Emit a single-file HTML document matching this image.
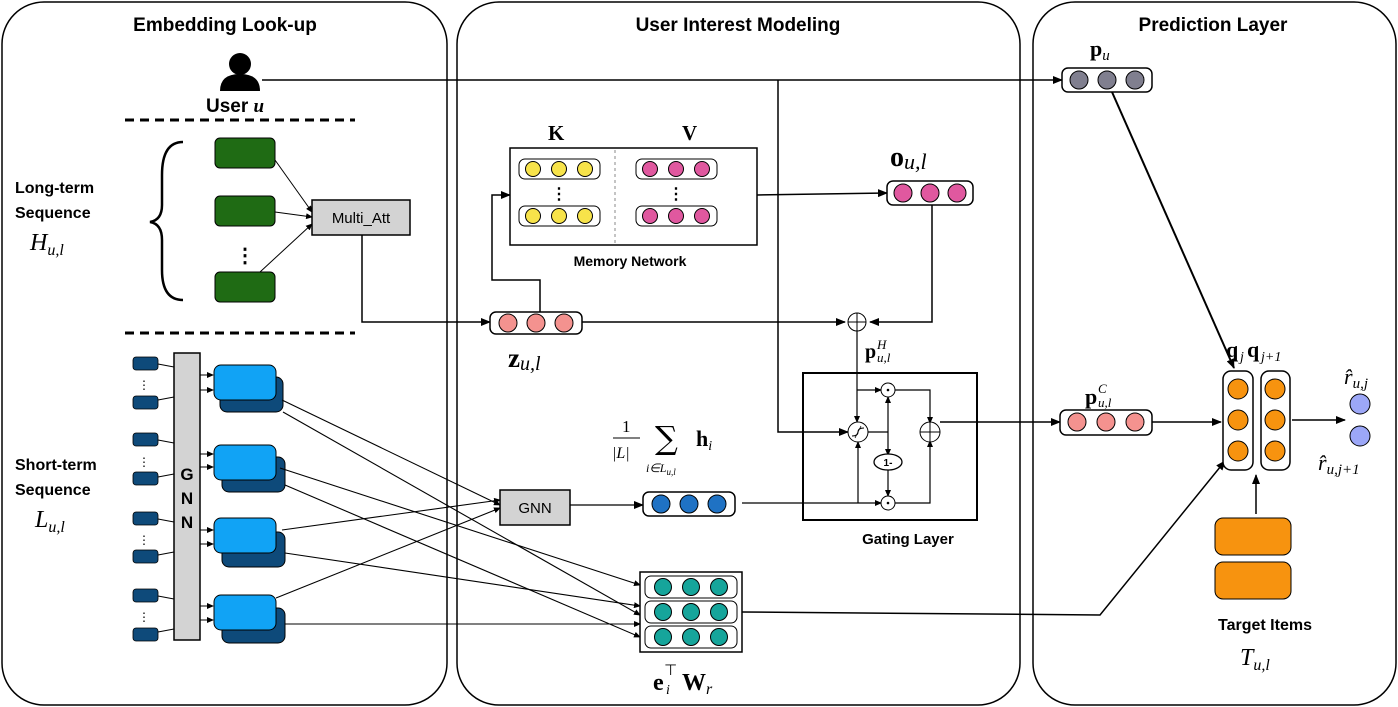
<!DOCTYPE html>
<html><head><style>
body{margin:0;background:#fff}
svg{display:block}
.t{font-family:"Liberation Sans",sans-serif;font-weight:bold}
.m{font-family:"Liberation Serif",serif;font-style:italic}
.b{font-family:"Liberation Serif",serif;font-weight:bold}
</style></head><body>
<svg width="1398" height="707" viewBox="0 0 1398 707" xmlns="http://www.w3.org/2000/svg">
<defs>
<marker id="a" markerWidth="10" markerHeight="8" refX="9" refY="4" orient="auto" markerUnits="userSpaceOnUse"><path d="M0,0 L10,4 L0,8 z" fill="#000"/></marker>
<marker id="s" markerWidth="7" markerHeight="6" refX="6" refY="3" orient="auto" markerUnits="userSpaceOnUse"><path d="M0,0 L7,3 L0,6 z" fill="#000"/></marker>
</defs>
<g fill="none" stroke="#000" stroke-width="1.5">
<rect x="2" y="2" width="445" height="703" rx="42"/>
<rect x="457" y="2" width="563" height="703" rx="42"/>
<rect x="1033" y="2" width="363" height="703" rx="42"/>
</g>
<text class="t" x="225" y="31" font-size="19" text-anchor="middle">Embedding Look-up</text>
<text class="t" x="738" y="31" font-size="19" text-anchor="middle">User Interest Modeling</text>
<text class="t" x="1213" y="31" font-size="19" text-anchor="middle">Prediction Layer</text>

<!-- user icon -->
<circle cx="240" cy="64" r="11" fill="#000"/>
<path d="M220,91 Q220,74 240,74 Q260,74 260,91 z" fill="#000"/>
<text class="t" x="206" y="112" font-size="19">User <tspan class="m">u</tspan></text>
<line x1="125" y1="120" x2="355" y2="120" stroke="#000" stroke-width="3" stroke-dasharray="9,6"/>
<line x1="125" y1="333" x2="355" y2="333" stroke="#000" stroke-width="3" stroke-dasharray="9,6"/>

<!-- long-term -->
<text class="t" x="15" y="193" font-size="16">Long-term</text>
<text class="t" x="15" y="218" font-size="16">Sequence</text>
<text class="m" x="30" y="250" font-size="24">H<tspan font-size="16" dy="5">u,l</tspan></text>
<path d="M183,142 Q162,142 162,175 L162,205 Q162,220 150,222 Q162,224 162,240 L162,270 Q162,300 183,300" fill="none" stroke="#000" stroke-width="2.5"/>
<g fill="#1f6b14" stroke="#000" stroke-width="1">
<rect x="215" y="138" width="60" height="30" rx="5"/>
<rect x="215" y="196" width="60" height="30" rx="5"/>
<rect x="215" y="272" width="60" height="30" rx="5"/>
</g>
<text class="t" x="245" y="262" font-size="20" text-anchor="middle">⋮</text>
<g stroke="#000" stroke-width="1">
<line x1="275" y1="160" x2="312" y2="212" marker-end="url(#s)"/>
<line x1="275" y1="212" x2="312" y2="217" marker-end="url(#s)"/>
<line x1="260" y1="272" x2="312" y2="224" marker-end="url(#s)"/>
</g>
<rect x="312" y="200" width="98" height="35" fill="#d3d3d3" stroke="#000" stroke-width="1.5"/>
<text x="361" y="223" font-size="15" text-anchor="middle" font-family="Liberation Sans">Multi_Att</text>
<polyline points="362,235 362,322 490,322" fill="none" stroke="#000" stroke-width="1.5" marker-end="url(#a)"/>

<!-- z -->
<rect x="490" y="312" width="92" height="22" rx="6" fill="#fff" stroke="#000" stroke-width="1.5"/>
<g fill="#f4928f" stroke="#000"><circle cx="508" cy="323" r="9"/><circle cx="536" cy="323" r="9"/><circle cx="564" cy="323" r="9"/></g>
<text class="b" x="508" y="367" font-size="27">z<tspan class="m" font-weight="normal" font-size="20" dy="3">u,l</tspan></text>
<polyline points="540,312 540,280 492,280 492,195 510,195" fill="none" stroke="#000" stroke-width="1.5" marker-end="url(#a)"/>
<line x1="582" y1="322" x2="845" y2="322" stroke="#000" stroke-width="1.5" marker-end="url(#a)"/>

<!-- memory network -->
<rect x="510" y="148" width="247" height="97" fill="#fff" stroke="#000" stroke-width="1.5"/>
<line x1="615" y1="150" x2="615" y2="243" stroke="#888" stroke-dasharray="3,3"/>
<text class="b" x="548" y="140" font-size="21">K</text>
<text class="b" x="682" y="140" font-size="21">V</text>
<g fill="#fff" stroke="#000">
<rect x="519" y="159" width="81" height="20" rx="6"/><rect x="519" y="206" width="81" height="20" rx="6"/>
<rect x="636" y="159" width="81" height="20" rx="6"/><rect x="636" y="206" width="81" height="20" rx="6"/>
</g>
<g fill="#f7e34a" stroke="#000">
<circle cx="533" cy="169" r="7.5"/><circle cx="559" cy="169" r="7.5"/><circle cx="585" cy="169" r="7.5"/>
<circle cx="533" cy="216" r="7.5"/><circle cx="559" cy="216" r="7.5"/><circle cx="585" cy="216" r="7.5"/>
</g>
<g fill="#e0589f" stroke="#000">
<circle cx="650" cy="169" r="7.5"/><circle cx="676" cy="169" r="7.5"/><circle cx="702" cy="169" r="7.5"/>
<circle cx="650" cy="216" r="7.5"/><circle cx="676" cy="216" r="7.5"/><circle cx="702" cy="216" r="7.5"/>
</g>
<text class="t" x="559" y="199" font-size="16" text-anchor="middle">⋮</text>
<text class="t" x="676" y="199" font-size="16" text-anchor="middle">⋮</text>
<text class="t" x="630" y="266" font-size="14" text-anchor="middle">Memory Network</text>
<line x1="757" y1="195" x2="887" y2="193" stroke="#000" stroke-width="1.5" marker-end="url(#a)"/>

<!-- o -->
<text class="b" x="890" y="166" font-size="28">o<tspan class="m" font-weight="normal" font-size="22" dy="3">u,l</tspan></text>
<rect x="887" y="181" width="86" height="24" rx="6" fill="#fff" stroke="#000" stroke-width="1.5"/>
<g fill="#e0589f" stroke="#000"><circle cx="903" cy="193" r="9"/><circle cx="930" cy="193" r="9"/><circle cx="957" cy="193" r="9"/></g>
<polyline points="932,205 932,322 870,322" fill="none" stroke="#000" stroke-width="1.5" marker-end="url(#a)"/>
<circle cx="857" cy="322" r="9" fill="#fff" stroke="#000"/>
<line x1="848" y1="322" x2="866" y2="322" stroke="#000"/><line x1="857" y1="313" x2="857" y2="331" stroke="#000"/>
<text class="b" x="865" y="358" font-size="20">p</text>
<text class="m" x="877" y="349" font-size="13">H</text>
<text class="m" x="877" y="362" font-size="13">u,l</text>

<!-- user line -->
<line x1="262" y1="80" x2="1062" y2="80" stroke="#000" stroke-width="1.5" marker-end="url(#a)"/>
<polyline points="778,80 778,432 848,432" fill="none" stroke="#000" stroke-width="1.5" marker-end="url(#a)"/>

<!-- gating -->
<rect x="803" y="373" width="174" height="147" fill="none" stroke="#000" stroke-width="2"/>
<text class="t" x="908" y="544" font-size="15" text-anchor="middle">Gating Layer</text>
<g stroke="#000" stroke-width="1.2" fill="none">
<line x1="857" y1="331" x2="857" y2="422" marker-end="url(#s)"/>
<polyline points="857,390 881,390" marker-end="url(#s)"/>
<polyline points="868,432 888,432"/>
<line x1="888" y1="432" x2="888" y2="397" marker-end="url(#s)"/>
<line x1="888" y1="432" x2="888" y2="455" marker-end="url(#s)"/>
<line x1="888" y1="469" x2="888" y2="496" marker-end="url(#s)"/>
<polyline points="895,390 930,390 930,423" marker-end="url(#s)"/>
<polyline points="895,503 930,503 930,441" marker-end="url(#s)"/>
<polyline points="742,503 881,503" marker-end="url(#s)"/>
<line x1="858" y1="503" x2="858" y2="442" marker-end="url(#s)"/>
</g>
<circle cx="858" cy="432" r="10" fill="#fff" stroke="#000"/>
<path d="M852,436 Q858,436 858,432 Q858,428 864,428" fill="none" stroke="#000"/>
<line x1="855" y1="438" x2="861" y2="426" stroke="#000" stroke-width="0.8"/>
<circle cx="888" cy="390" r="7" fill="#fff" stroke="#000"/><circle cx="888" cy="390" r="1.3"/>
<circle cx="888" cy="503" r="7" fill="#fff" stroke="#000"/><circle cx="888" cy="503" r="1.3"/>
<ellipse cx="888" cy="462" rx="14" ry="8" fill="#fff" stroke="#000" stroke-width="1.3"/>
<text class="t" x="888" y="466" font-size="10" text-anchor="middle">1-</text>
<circle cx="930" cy="432" r="10" fill="#fff" stroke="#000"/>
<line x1="920" y1="432" x2="940" y2="432" stroke="#000"/><line x1="930" y1="422" x2="930" y2="442" stroke="#000"/>
<line x1="940" y1="422" x2="1060" y2="422" stroke="#000" stroke-width="1.5" marker-end="url(#a)"/>

<!-- short-term -->
<text class="t" x="15" y="470" font-size="16">Short-term</text>
<text class="t" x="15" y="495" font-size="16">Sequence</text>
<text class="m" x="35" y="527" font-size="24">L<tspan font-size="16" dy="5">u,l</tspan></text>
<g fill="#0e4a7a" stroke="#000" stroke-width="0.8">
<rect x="133" y="357" width="25" height="13" rx="3"/><rect x="133" y="396" width="25" height="13" rx="3"/>
<rect x="133" y="433" width="25" height="13" rx="3"/><rect x="133" y="472" width="25" height="13" rx="3"/>
<rect x="133" y="512" width="25" height="13" rx="3"/><rect x="133" y="550" width="25" height="13" rx="3"/>
<rect x="133" y="589" width="25" height="13" rx="3"/><rect x="133" y="628" width="25" height="13" rx="3"/>
</g>
<g font-family="Liberation Sans" font-size="12" text-anchor="middle"><text x="144" y="389">⋮</text><text x="144" y="466">⋮</text><text x="144" y="544">⋮</text><text x="144" y="621">⋮</text></g>
<g stroke="#000" stroke-width="1">
<line x1="158" y1="364" x2="174" y2="367"/><line x1="158" y1="400" x2="174" y2="397"/>
<line x1="158" y1="440" x2="174" y2="443"/><line x1="158" y1="477" x2="174" y2="474"/>
<line x1="158" y1="519" x2="174" y2="522"/><line x1="158" y1="555" x2="174" y2="552"/>
<line x1="158" y1="596" x2="174" y2="599"/><line x1="158" y1="632" x2="174" y2="629"/>
</g>
<rect x="174" y="353" width="26" height="287" fill="#d3d3d3" stroke="#000" stroke-width="1.5"/>
<text class="t" x="187" y="480" font-size="17" text-anchor="middle">G</text>
<text class="t" x="187" y="504" font-size="17" text-anchor="middle">N</text>
<text class="t" x="187" y="528" font-size="17" text-anchor="middle">N</text>
<g stroke="#000" stroke-width="1">
<line x1="200" y1="375" x2="213" y2="375" marker-end="url(#s)"/><line x1="200" y1="390" x2="213" y2="390" marker-end="url(#s)"/>
<line x1="200" y1="454" x2="213" y2="454" marker-end="url(#s)"/><line x1="200" y1="467" x2="213" y2="467" marker-end="url(#s)"/>
<line x1="200" y1="530" x2="213" y2="530" marker-end="url(#s)"/><line x1="200" y1="544" x2="213" y2="544" marker-end="url(#s)"/>
<line x1="200" y1="606" x2="213" y2="606" marker-end="url(#s)"/><line x1="200" y1="620" x2="213" y2="620" marker-end="url(#s)"/>
</g>
<g stroke="#000" stroke-width="1">
<rect x="220" y="377" width="63" height="35" rx="7" fill="#0e4a7a"/><rect x="214" y="365" width="62" height="35" rx="7" fill="#11a3f5"/>
<rect x="222" y="457" width="63" height="35" rx="7" fill="#0e4a7a"/><rect x="214" y="445" width="62" height="35" rx="7" fill="#11a3f5"/>
<rect x="222" y="532" width="63" height="35" rx="7" fill="#0e4a7a"/><rect x="214" y="518" width="62" height="35" rx="7" fill="#11a3f5"/>
<rect x="222" y="608" width="63" height="35" rx="7" fill="#0e4a7a"/><rect x="214" y="595" width="62" height="35" rx="7" fill="#11a3f5"/>
</g>
<g stroke="#000" stroke-width="1.1">
<line x1="282" y1="400" x2="500" y2="505" marker-end="url(#s)"/>
<line x1="283" y1="412" x2="640" y2="615" marker-end="url(#s)"/>
<line x1="280" y1="468" x2="640" y2="585" marker-end="url(#s)"/>
<line x1="285" y1="485" x2="640" y2="637" marker-end="url(#s)"/>
<line x1="282" y1="530" x2="500" y2="500" marker-end="url(#s)"/>
<line x1="285" y1="553" x2="640" y2="606" marker-end="url(#s)"/>
<line x1="276" y1="598" x2="500" y2="508" marker-end="url(#s)"/>
<line x1="285" y1="624" x2="640" y2="624" marker-end="url(#s)"/>
</g>
<rect x="500" y="490" width="70" height="35" fill="#d3d3d3" stroke="#000" stroke-width="1.5"/>
<text x="535" y="513" font-size="15" text-anchor="middle" font-family="Liberation Sans">GNN</text>
<line x1="570" y1="505" x2="643" y2="505" stroke="#000" stroke-width="1.2" marker-end="url(#a)"/>

<!-- h sum -->
<text x="622" y="432" font-size="17" font-family="Liberation Serif">1</text>
<line x1="613" y1="438" x2="640" y2="438" stroke="#000"/>
<text class="m" x="612" y="458" font-size="16">|L|</text>
<text x="655" y="449" font-size="32" font-family="DejaVu Serif">∑</text>
<text class="m" x="646" y="472" font-size="12">i∈L<tspan font-size="9" dy="3">u,l</tspan></text>
<text class="b" x="696" y="446" font-size="22">h<tspan class="m" font-weight="normal" font-size="14" dy="4">i</tspan></text>
<rect x="643" y="492" width="92" height="24" rx="6" fill="#fff" stroke="#000" stroke-width="1.5"/>
<g fill="#1f72c4" stroke="#000"><circle cx="661" cy="504" r="9"/><circle cx="689" cy="504" r="9"/><circle cx="717" cy="504" r="9"/></g>

<!-- teal -->
<rect x="640" y="572" width="102" height="80" fill="#fff" stroke="#000" stroke-width="1.5"/>
<g fill="#fff" stroke="#000"><rect x="645" y="576" width="92" height="22" rx="6"/><rect x="645" y="601" width="92" height="22" rx="6"/><rect x="645" y="626" width="92" height="22" rx="6"/></g>
<g fill="#16a59b" stroke="#000">
<circle cx="663" cy="587" r="8.5"/><circle cx="691" cy="587" r="8.5"/><circle cx="719" cy="587" r="8.5"/>
<circle cx="663" cy="612" r="8.5"/><circle cx="691" cy="612" r="8.5"/><circle cx="719" cy="612" r="8.5"/>
<circle cx="663" cy="637" r="8.5"/><circle cx="691" cy="637" r="8.5"/><circle cx="719" cy="637" r="8.5"/>
</g>
<text class="b" x="653" y="690" font-size="24">e</text>
<text class="m" x="666" y="694" font-size="14">i</text>
<text x="664" y="675" font-size="15" font-family="DejaVu Sans">⊤</text>
<text class="b" x="682" y="690" font-size="24">W</text>
<text class="m" x="706" y="694" font-size="16">r</text>
<polyline points="742,612 1100,615 1225,461" fill="none" stroke="#000" stroke-width="1.5" marker-end="url(#a)"/>

<!-- prediction -->
<text class="b" x="1090" y="56" font-size="22">p<tspan class="m" font-weight="normal" font-size="15" dy="4">u</tspan></text>
<rect x="1062" y="68" width="90" height="24" rx="6" fill="#fff" stroke="#000" stroke-width="1.5"/>
<g fill="#807f8f" stroke="#000"><circle cx="1079" cy="80" r="9"/><circle cx="1107" cy="80" r="9"/><circle cx="1135" cy="80" r="9"/></g>
<line x1="1112" y1="92" x2="1234" y2="368" stroke="#000" stroke-width="2" marker-end="url(#a)"/>
<text class="b" x="1085" y="404" font-size="22">p</text>
<text class="m" x="1098" y="393" font-size="13">C</text>
<text class="m" x="1098" y="407" font-size="13">u,l</text>
<rect x="1060" y="410" width="92" height="25" rx="6" fill="#fff" stroke="#000" stroke-width="1.5"/>
<g fill="#f4928f" stroke="#000"><circle cx="1077" cy="422" r="9"/><circle cx="1106" cy="422" r="9"/><circle cx="1135" cy="422" r="9"/></g>
<line x1="1152" y1="422" x2="1221" y2="422" stroke="#000" stroke-width="1.5" marker-end="url(#a)"/>
<text class="b" x="1226" y="357" font-size="22">q</text>
<text class="m" x="1240" y="361" font-size="14">j</text>
<text class="b" x="1247" y="357" font-size="22">q</text>
<text class="m" x="1261" y="361" font-size="14">j+1</text>
<rect x="1223" y="371" width="30" height="99" rx="8" fill="#fff" stroke="#000" stroke-width="1.5"/>
<rect x="1261" y="371" width="29" height="99" rx="8" fill="#fff" stroke="#000" stroke-width="1.5"/>
<g fill="#f7930f" stroke="#000">
<circle cx="1238" cy="389" r="10"/><circle cx="1238" cy="420" r="10"/><circle cx="1238" cy="451" r="10"/>
<circle cx="1275" cy="389" r="10"/><circle cx="1275" cy="420" r="10"/><circle cx="1275" cy="451" r="10"/>
</g>
<line x1="1292" y1="420" x2="1345" y2="420" stroke="#000" stroke-width="1.5" marker-end="url(#a)"/>
<g fill="#9ca7f7" stroke="#000"><circle cx="1360" cy="404" r="10"/><circle cx="1360" cy="436" r="10"/></g>
<text class="m" x="1344" y="384" font-size="22">r̂<tspan font-size="15" dy="4">u,j</tspan></text>
<text class="m" x="1318" y="470" font-size="22">r̂<tspan font-size="15" dy="4">u,j+1</tspan></text>
<line x1="1256" y1="514" x2="1256" y2="475" stroke="#000" stroke-width="1.5" marker-end="url(#a)"/>
<rect x="1215" y="518" width="76" height="37" rx="8" fill="#f7930f" stroke="#000"/>
<rect x="1215" y="562" width="76" height="37" rx="8" fill="#f7930f" stroke="#000"/>
<text class="t" x="1265" y="630" font-size="16" text-anchor="middle">Target Items</text>
<text class="m" x="1240" y="665" font-size="24">T<tspan font-size="16" dy="5">u,l</tspan></text>
</svg>
</body></html>
